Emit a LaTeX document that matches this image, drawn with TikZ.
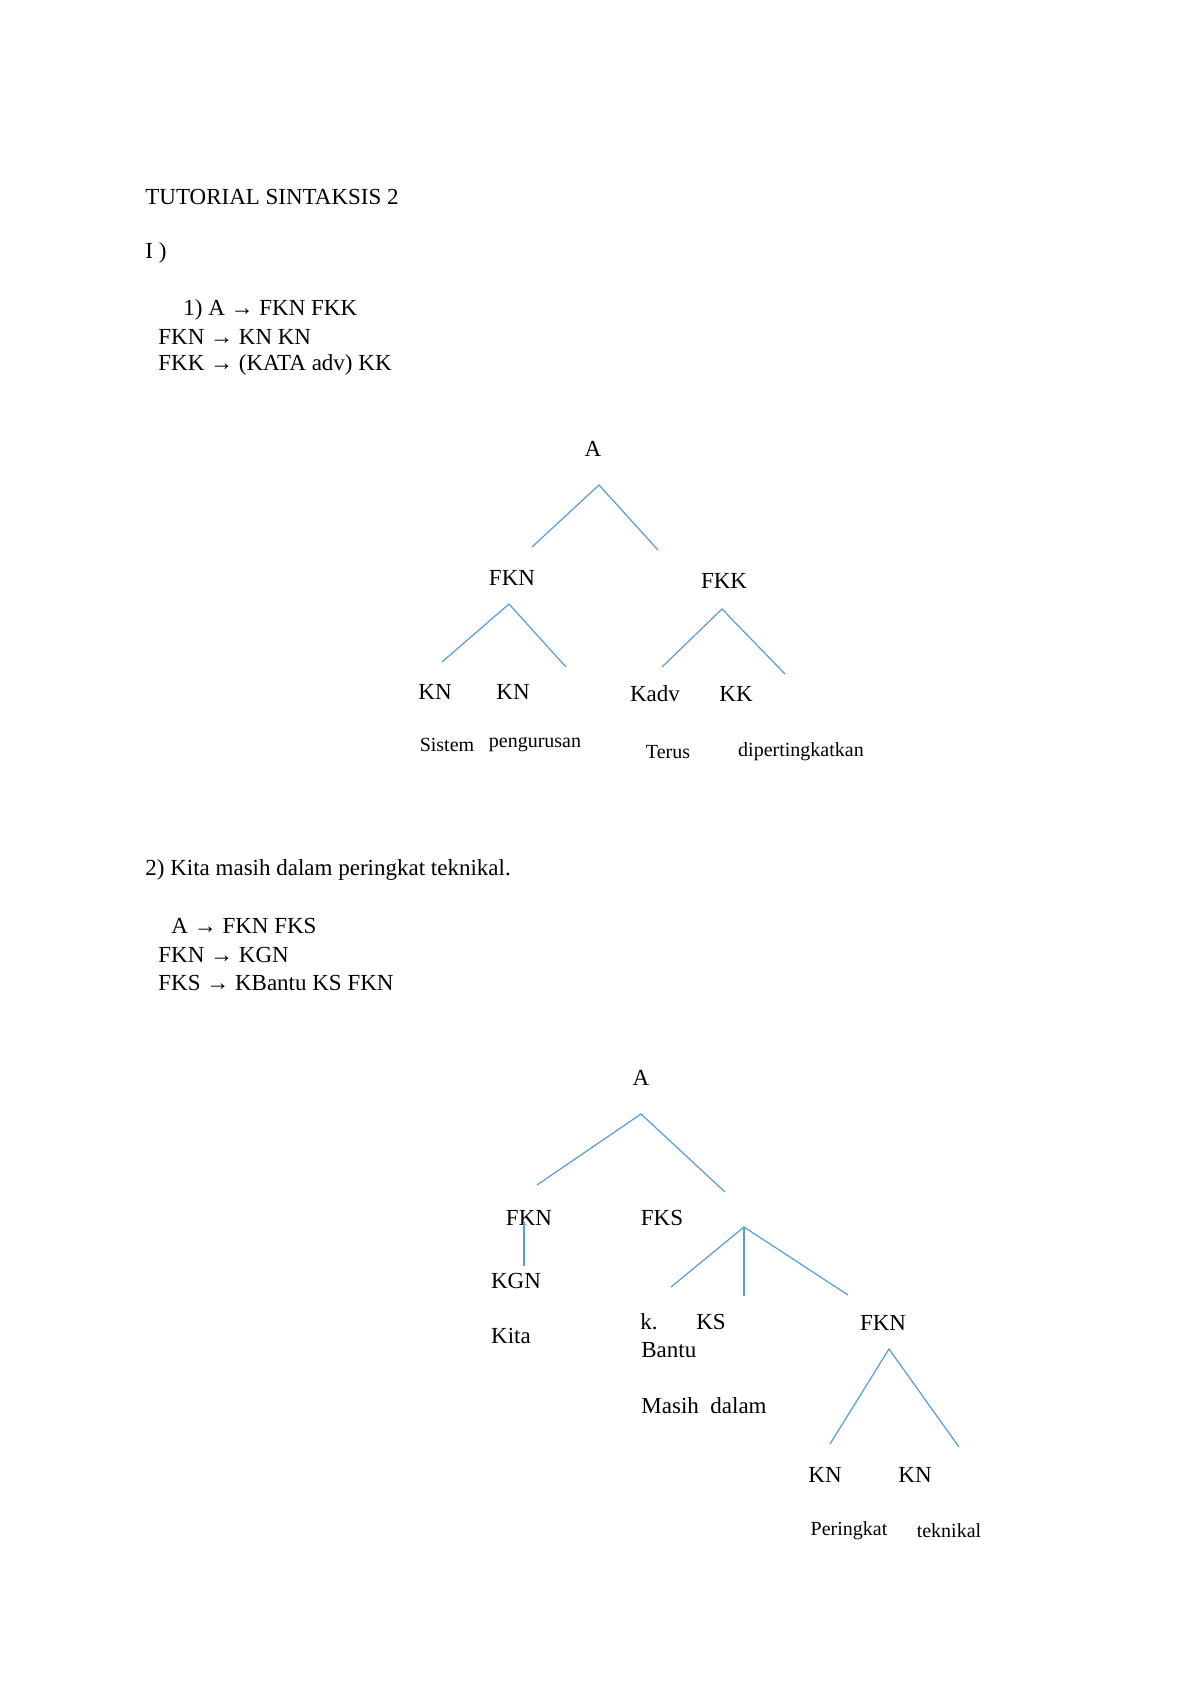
\documentclass[tikz,border=0pt]{standalone}
\usepackage{fontspec}
\setmainfont{Liberation Serif}
\definecolor{br}{RGB}{91,155,213}
\tikzset{t/.style={inner sep=0pt,font=\fontsize{11.5}{13}\selectfont},
 tl/.style={t,anchor=west},
 sm/.style={inner sep=0pt,font=\fontsize{10}{12}\selectfont},
 br/.style={draw=br,line width=0.6pt}}
\begin{document}
\begin{tikzpicture}[x=0.5pt,y=-0.5pt]
\useasboundingbox[fill=white] (0,0) rectangle (1200,1698);
\node[tl] (title) at (145,197) {TUTORIAL SINTAKSIS 2};
\node[tl] (I) at (145,253) {I )};
\node[tl] (r1) at (183,310) {1) A → FKN FKK};
\node[tl] (r2) at (158,337) {FKN → KN KN};
\node[tl] (r3) at (158,365) {FKK → (KATA adv) KK};
% tree 1
\node[t] (A1) at (593,449) {A};
\node[t] (FKN1) at (512,578) {FKN};
\node[t] (FKK1) at (724,581) {FKK};
\node[t] (KNa) at (435,692) {KN};
\node[t] (KNb) at (513,692) {KN};
\node[t] (Kadv) at (655,694) {Kadv};
\node[t] (KK) at (736,694) {KK};
\node[sm] (w1) at (447,745) {Sistem};
\node[sm] (w2) at (535,745) {pengurusan};
\node[sm] (w3) at (668,752) {Terus};
\node[sm] (w4) at (801,752) {dipertingkatkan};
\coordinate (a1) at (599,485); \coordinate (l1) at (532,547); \coordinate (r1e) at (658,550);
\coordinate (a2) at (509,604); \coordinate (l2) at (442,662); \coordinate (r2e) at (566,667);
\coordinate (a3) at (722,609); \coordinate (l3) at (662,667); \coordinate (r3e) at (785,674);
\draw[br] (l1)--(a1)--(r1e);
\draw[br] (l2)--(a2)--(r2e);
\draw[br] (l3)--(a3)--(r3e);
% section 2
\node[tl] (s2) at (145,870) {2) Kita masih dalam peringkat teknikal.};
\node[tl] (q1) at (171,926) {A → FKN FKS};
\node[tl] (q2) at (158,955) {FKN → KGN};
\node[tl] (q3) at (158,983) {FKS → KBantu KS FKN};
\node[t] (A2) at (641,1078) {A};
\node[t] (FKN2) at (529,1218) {FKN};
\node[t] (FKS) at (662,1218) {FKS};
\node[t] (KGN) at (516,1281) {KGN};
\node[t] (Kita) at (511,1336) {Kita};
\node[t] (k) at (649,1322) {k.};
\node[t] (KS) at (711,1322) {KS};
\node[t,anchor=west] (Bantu) at (641,1350) {Bantu};
\node[t,anchor=west] (Md) at (641,1406) {Masih\ \ dalam};
\node[t] (FKN3) at (883,1323) {FKN};
\node[t] (KNc) at (825,1475) {KN};
\node[t] (KNd) at (915,1475) {KN};
\node[sm] (Per) at (849,1531) {Peringkat};
\node[sm] (tek) at (949,1531) {teknikal};
\coordinate (b1) at (641,1114); \coordinate (bl) at (537,1185); \coordinate (br1) at (725,1192);
\coordinate (v1) at (524,1222); \coordinate (v2) at (524,1266);
\coordinate (c1) at (744,1227); \coordinate (cl) at (671,1287); \coordinate (cm) at (744,1296); \coordinate (cr) at (848,1295);
\coordinate (d1) at (889,1349); \coordinate (dl) at (830,1444); \coordinate (dr) at (959,1447);
\draw[br] (bl)--(b1)--(br1);
\draw[br] (v1)--(v2);
\draw[br] (cl)--(c1)--(cr); \draw[br] (c1)--(cm);
\draw[br] (dl)--(d1)--(dr);
\end{tikzpicture}
\end{document}
